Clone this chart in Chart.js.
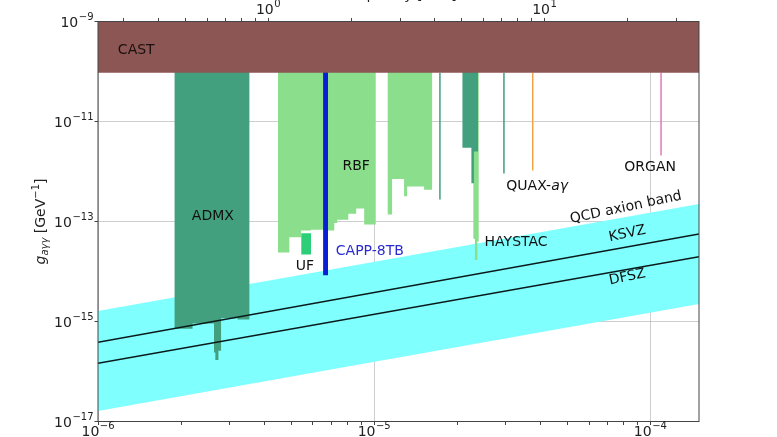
<!DOCTYPE html>
<html>
<head>
<meta charset="utf-8">
<script src="https://cdn.jsdelivr.net/npm/chart.js@4.4.1/dist/chart.umd.min.js"></script>
<style>
  html, body { margin: 0; padding: 0; background: #fff; overflow: hidden; width: 777px; height: 437px; }
  #wrap { position: absolute; left: 0; top: -24px; width: 777px; height: 485px; }
</style>
</head>
<body>
<div id="wrap"><canvas id="chart" width="777" height="485"></canvas></div>
<script>
const EV_PER_GHZ = 4.1357e-6;
const massRange = [1e-6, 1.5e-4];
const gRange = [1e-17, 1e-9];

// tick labels are 10^exp, drawn with a raised exponent
const yTicks = [1e-17, 1e-15, 1e-13, 1e-11, 1e-9];
const yTickExp = ['−17', '−15', '−13', '−11', '−9'];
const xMajorTicks = [1e-6, 1e-5, 1e-4];
const xTickExp = ['−6', '−5', '−4'];
const fMajorTicks = [1, 10];
const fTickExp = ['0', '1'];

// CAST helioscope limit
const castMass = [1e-6, 1.5e-4];
const castG = [9.4e-11, 9.4e-11];

// haloscope limits: bin edges (eV) and limit per bin (GeV^-1)
const admxEdges = [1.89e-6, 2.20e-6, 2.63e-6, 2.66e-6, 2.73e-6, 2.79e-6, 3.20e-6, 3.54e-6];
const admxG = [7.2e-16, 9.1e-16, 2.4e-16, 1.7e-16, 2.6e-16, 1.16e-15, 1.10e-15];

const rbfEdges = [4.48e-6, 4.93e-6, 5.44e-6, 5.91e-6, 6.78e-6, 7.17e-6, 7.35e-6, 8.06e-6, 8.61e-6, 9.20e-6, 1.014e-5];
const rbfG = [2.4e-14, 4.85e-14, 6.6e-14, 6.8e-14, 6.6e-14, 9.3e-14, 1.08e-13, 1.43e-13, 1.82e-13, 8.7e-14];

const rbf2Edges = [1.117e-5, 1.161e-5, 1.283e-5, 1.316e-5, 1.516e-5, 1.624e-5];
const rbf2G = [1.38e-13, 7.1e-13, 3.2e-13, 5.0e-13, 4.3e-13];

const ufEdges = [5.44e-6, 5.91e-6];
const ufG = [2.2e-14];
const ufTop = 5.8e-14;

const cappEdges = [6.53e-6, 6.81e-6];
const cappG = [8.4e-15];

const haystacEdges = [2.084e-5, 2.249e-5, 2.297e-5, 2.379e-5];
const haystacG = [3.0e-12, 5.8e-13, 2.5e-12];
const haystac2Edges = [2.283e-5, 2.316e-5, 2.364e-5, 2.393e-5];
const haystac2G = [4.5e-14, 1.7e-14, 4.0e-14];

// narrow-band searches drawn as lines
const tealMass = [1.73e-5, 2.95e-5];
const tealG = [2.75e-13, 9.1e-13];
const quaxMass = 3.75e-5;
const quaxG = 1.05e-12;
const organMass = 1.093e-4;
const organG = 2.09e-12;

// QCD axion band and model lines
const bandMass = [1e-6, 1.5e-4];
const bandUpperG = [1.62e-15, 2.24e-13];
const bandLowerG = [1.62e-17, 2.24e-15];
const ksvzG = [3.84e-16, 5.62e-14];
const dfszG = [1.46e-16, 1.98e-14];

const annotations = [
  { parts: [{ t: 'CAST' }], m: 1.18e-6, g: 2.6e-10, align: 'left', color: '#1a1010' },
  { parts: [{ t: 'ADMX' }], m: 2.606e-6, g: 1.28e-13, align: 'center', color: '#111' },
  { parts: [{ t: 'RBF' }], m: 8.61e-6, g: 1.26e-12, align: 'center', color: '#111' },
  { parts: [{ t: 'UF' }], m: 5.61e-6, g: 1.28e-14, align: 'center', color: '#111' },
  { parts: [{ t: 'CAPP-8TB' }], m: 7.26e-6, g: 2.55e-14, align: 'left', color: '#2a2ad0' },
  { parts: [{ t: 'HAYSTAC' }], m: 2.51e-5, g: 3.8e-14, align: 'left', color: '#111' },
  { parts: [{ t: 'QUAX-' }, { t: 'aγ', italic: true }], m: 3.01e-5, g: 5.0e-13, align: 'left', color: '#111' },
  { parts: [{ t: 'ORGAN' }], m: 8.05e-5, g: 1.2e-12, align: 'left', color: '#111' },
  { parts: [{ t: 'QCD axion band' }], m: 8.15e-5, g: 1.9e-13, align: 'center', rot: -12, color: '#111' },
  { parts: [{ t: 'KSVZ' }], m: 8.25e-5, g: 5.67e-14, align: 'center', rot: -12, color: '#111' },
  { parts: [{ t: 'DFSZ' }], m: 8.25e-5, g: 7.7e-15, align: 'center', rot: -12, color: '#111' }
];

const FONT = "'DejaVu Sans', sans-serif";

const steps = (edges, lims) => {
  const pts = [];
  lims.forEach((g, i) => { pts.push({ x: edges[i], y: g }, { x: edges[i + 1], y: g }); });
  return pts;
};
const pairs = (ms, gs) => ms.map((m, i) => ({ x: m, y: gs[i] }));
const vline = (m, g) => [{ x: m, y: castG[0] }, { x: m, y: g }];

const isDecade = (v) => Math.abs(Math.log10(v) - Math.round(Math.log10(v))) < 1e-9;
const minorTicks = (lo, hi) => {
  const out = [];
  for (let d = Math.floor(Math.log10(lo)); d <= Math.ceil(Math.log10(hi)); d++) {
    for (let k = 1; k <= 9; k++) {
      const v = k * Math.pow(10, d);
      if (v >= lo * 0.9999 && v <= hi * 1.0001) out.push(v);
    }
  }
  return out;
};

const region = (data, color, order, fill = 'end') => ({
  data, backgroundColor: color, borderColor: color, borderWidth: 0,
  fill, pointRadius: 0, tension: 0, order
});
const stroke = (data, color, width, order) => ({
  data, borderColor: color, backgroundColor: color, borderWidth: width,
  fill: false, pointRadius: 0, tension: 0, order
});

const datasets = [
  stroke(pairs(bandMass, ksvzG), '#0a1a1a', 1.5, 0),
  stroke(pairs(bandMass, dfszG), '#0a1a1a', 1.5, 0),
  region(pairs(castMass, castG), '#8c5654', 1),
  stroke(vline(tealMass[0], tealG[0]), '#3d9f7d', 1.5, 2),
  stroke(vline(tealMass[1], tealG[1]), '#3d9f7d', 1.5, 2),
  stroke(vline(quaxMass, quaxG), '#f2a445', 1.5, 2),
  stroke(vline(organMass, organG), '#e07ab8', 1.5, 2),
  region(steps(cappEdges, cappG), '#0a1ed6', 2),
  region(steps(ufEdges, ufG), '#2ccf78', 3, { value: ufTop }),
  region(steps(haystacEdges, haystacG), '#42a07f', 3),
  region(steps(haystac2Edges, haystac2G), '#8bde8b', 4),
  region(steps(rbfEdges, rbfG), '#8bde8b', 4),
  region(steps(rbf2Edges, rbf2G), '#8bde8b', 4),
  region(steps(admxEdges, admxG), '#42a07f', 4),
  region(pairs(bandMass, bandUpperG), '#80ffff', 9, '+1'),
  stroke(pairs(bandMass, bandLowerG), 'rgba(0,0,0,0)', 0, 9)
];

const drawParts = (ctx, parts, align, size) => {
  const fontOf = (p) => `${p.italic ? 'italic ' : ''}${size}px ${FONT}`;
  let total = 0;
  parts.forEach(p => { ctx.font = fontOf(p); total += ctx.measureText(p.t).width; });
  let x = align === 'left' ? 0 : -total / 2;
  ctx.textAlign = 'left';
  parts.forEach(p => { ctx.font = fontOf(p); ctx.fillText(p.t, x, 0); x += ctx.measureText(p.t).width; });
};

// "10" with a raised exponent; yc is the vertical centre of the "10"
const drawPow = (ctx, x, yc, exp, align) => {
  ctx.font = `14px ${FONT}`;
  const wb = ctx.measureText('10').width;
  ctx.font = `10px ${FONT}`;
  const we = ctx.measureText(exp).width;
  const total = wb + we + 0.5;
  let x0 = align === 'right' ? x - total : x - total / 2;
  ctx.textAlign = 'left';
  ctx.textBaseline = 'alphabetic';
  ctx.font = `14px ${FONT}`;
  ctx.fillText('10', x0, yc + 5);
  ctx.font = `10px ${FONT}`;
  ctx.fillText(exp, x0 + wb + 0.5, yc - 2);
};

const labelPlugin = {
  id: 'labels',
  afterDatasetsDraw(chart) {
    const { ctx, scales: { x, y } } = chart;
    annotations.forEach(a => {
      ctx.save();
      ctx.translate(x.getPixelForValue(a.m), y.getPixelForValue(a.g));
      ctx.rotate((a.rot || 0) * Math.PI / 180);
      ctx.fillStyle = a.color;
      ctx.textBaseline = 'middle';
      drawParts(ctx, a.parts, a.align, 14);
      ctx.restore();
    });
  },
  afterDraw(chart) {
    const { ctx, chartArea: c, scales: { x, x2, y } } = chart;
    ctx.save();
    ctx.strokeStyle = '#444';
    ctx.lineWidth = 1;
    ctx.strokeRect(c.left, c.top, c.right - c.left, c.bottom - c.top);

    ctx.fillStyle = '#222';
    yTicks.forEach((v, i) => drawPow(ctx, c.left - 4.5, y.getPixelForValue(v), yTickExp[i], 'right'));
    xMajorTicks.forEach((v, i) => drawPow(ctx, x.getPixelForValue(v), c.bottom + 9.5, xTickExp[i], 'center'));
    fMajorTicks.forEach((v, i) => drawPow(ctx, x2.getPixelForValue(v), c.top - 12.5, fTickExp[i], 'center'));

    // y axis title: g_aγγ [GeV^-1]
    ctx.translate(40, (c.top + c.bottom) / 2);
    ctx.rotate(-Math.PI / 2);
    ctx.textBaseline = 'alphabetic';
    const parts = [
      { t: 'g', f: `italic 14px ${FONT}`, dy: 0 },
      { t: 'aγγ', f: `italic 10px ${FONT}`, dy: 3 },
      { t: ' [GeV', f: `14px ${FONT}`, dy: 0 },
      { t: '−1', f: `10px ${FONT}`, dy: -6 },
      { t: ']', f: `14px ${FONT}`, dy: 0 }
    ];
    let total = 0;
    parts.forEach(p => { ctx.font = p.f; total += ctx.measureText(p.t).width; });
    let px = -total / 2;
    parts.forEach(p => { ctx.font = p.f; ctx.fillText(p.t, px, 5 + p.dy); px += ctx.measureText(p.t).width; });
    ctx.restore();
  }
};

const gridColor = (c) => (c.tick && isDecade(c.tick.value)) ? 'rgba(165,165,165,0.55)' : 'rgba(0,0,0,0)';

new Chart(document.getElementById('chart'), {
  type: 'line',
  data: { datasets },
  plugins: [labelPlugin],
  options: {
    responsive: false,
    animation: false,
    events: [],
    layout: { padding: { left: 0, right: 78, top: 0, bottom: 0 } },
    plugins: { legend: { display: false }, tooltip: { enabled: false } },
    scales: {
      x: {
        type: 'logarithmic', position: 'bottom', min: massRange[0], max: massRange[1], z: 1,
        afterBuildTicks: (s) => { s.ticks = minorTicks(massRange[0], massRange[1]).map(v => ({ value: v })); },
        afterFit: (s) => { s.height = 39.5; },
        ticks: { display: false },
        grid: { color: gridColor, tickColor: '#444', tickLength: 3.5, lineWidth: 1 },
        border: { display: false },
        title: { display: true, text: 'mₐ [eV]', font: { family: FONT, size: 14 }, color: '#222', padding: 0 }
      },
      x2: {
        type: 'logarithmic', position: 'top', min: massRange[0] / EV_PER_GHZ, max: massRange[1] / EV_PER_GHZ, z: 1,
        afterBuildTicks: (s) => { s.ticks = minorTicks(massRange[0] / EV_PER_GHZ, massRange[1] / EV_PER_GHZ).map(v => ({ value: v })); },
        afterFit: (s) => { s.height = 45.5; },
        ticks: { display: false },
        grid: { drawOnChartArea: false, tickColor: '#444', tickLength: 3.5 },
        border: { display: false },
        title: { display: true, text: 'Frequency [GHz]', font: { family: FONT, size: 14 }, color: '#222', padding: { top: 11, bottom: 0 } }
      },
      y: {
        type: 'logarithmic', position: 'left', min: gRange[0], max: gRange[1], z: 1,
        afterBuildTicks: (s) => { s.ticks = yTicks.map(v => ({ value: v })); },
        afterFit: (s) => { s.width = 98; },
        ticks: { display: false },
        grid: { color: gridColor, tickColor: '#444', tickLength: 3.5, lineWidth: 1 },
        border: { display: false }
      }
    }
  }
});
</script>
</body>
</html>
